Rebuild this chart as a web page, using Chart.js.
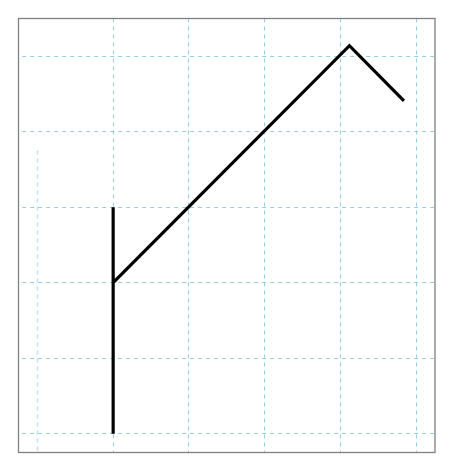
<!DOCTYPE html>
<html>
<head>
<meta charset="utf-8">
<script src="https://cdn.jsdelivr.net/npm/chart.js@4/dist/chart.umd.min.js"></script>
<style>
  html, body { margin: 0; padding: 0; background: #ffffff; }
  #c { display: block; }
</style>
</head>
<body>
<canvas id="c" width="454" height="472"></canvas>
<script>
// Path of the black line
const lineX = [1, 1, 1, 4.12, 4.84];
const lineY = [3, 0, 2, 5.14, 4.41];
// Partial guide segment at x = 0
const guideX = [0, 0];
const guideY = [3.75, -0.25];
// Grid tick values
const xTicks = [0, 1, 2, 3, 4, 5];
const yTicks = [0, 1, 2, 3, 4, 5];

const gridColor = 'rgba(125,195,225,0.8)';

const frame = {
  id: 'frame',
  afterDraw(chart) {
    const a = chart.chartArea, ctx = chart.ctx;
    ctx.save();
    ctx.strokeStyle = '#808080';
    ctx.lineWidth = 1.3;
    ctx.strokeRect(a.left, a.top, a.right - a.left, a.bottom - a.top);
    ctx.restore();
  }
};

new Chart(document.getElementById('c'), {
  type: 'scatter',
  data: {
    datasets: [
      {
        data: guideX.map((x, i) => ({x: x, y: guideY[i]})),
        showLine: true,
        borderColor: 'rgba(125,195,225,0.5)',
        borderWidth: 1.5,
        borderDash: [4, 4],
        pointRadius: 0,
        order: 2
      },
      {
        data: lineX.map((x, i) => ({x: x, y: lineY[i]})),
        showLine: true,
        borderColor: '#000000',
        borderWidth: 3.2,
        borderJoinStyle: 'miter',
        pointRadius: 0,
        tension: 0,
        order: 1
      }
    ]
  },
  options: {
    responsive: false,
    animation: false,
    devicePixelRatio: 1,
    layout: { padding: { left: 18.5, top: 18.5, right: 19, bottom: 19.5 } },
    plugins: { legend: { display: false }, tooltip: { enabled: false } },
    scales: {
      x: {
        type: 'linear',
        min: -0.25, max: 5.25,
        afterBuildTicks: s => { s.ticks = xTicks.map(v => ({value: v})); },
        ticks: { display: false },
        border: { display: false, dash: [4, 4] },
        grid: {
          drawTicks: false,
          color: c => (c.tick && c.tick.value === 0) ? 'rgba(0,0,0,0)' : gridColor,
          lineWidth: 1
        }
      },
      y: {
        type: 'linear',
        min: -0.25, max: 5.5,
        afterBuildTicks: s => { s.ticks = yTicks.map(v => ({value: v})); },
        ticks: { display: false },
        border: { display: false, dash: [4, 4], dashOffset: 4.8 },
        grid: {
          drawTicks: false,
          color: gridColor,
          lineWidth: 1
        }
      }
    }
  },
  plugins: [frame]
});
</script>
</body>
</html>
